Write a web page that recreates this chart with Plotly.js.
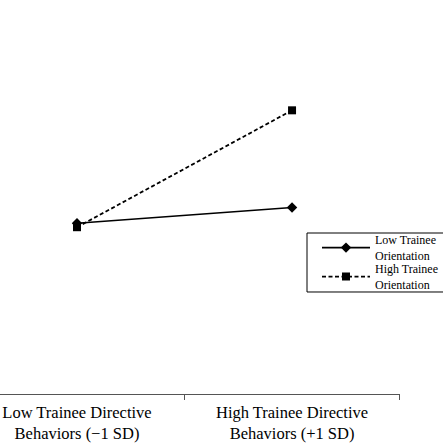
<!DOCTYPE html>
<html>
<head>
<meta charset="utf-8">
<script src="https://cdn.plot.ly/plotly-3.0.1.min.js"></script>
<style>
  html, body { margin: 0; padding: 0; background: white; }
  #chart { width: 443px; height: 443px; }
</style>
</head>
<body>
<div id="chart"></div>
<script>
// directive behaviour levels on the x axis
const categories = [
  'Low Trainee Directive<br>Behaviors (\u22121 SD)',
  'High Trainee Directive<br>Behaviors (+1 SD)'
];

// estimated outcome values
const lowOrientation = [3.30, 3.42];
const highOrientation = [3.27, 4.16];

const seriesNames = [
  'Low Trainee<br>Orientation',
  'High Trainee<br>Orientation'
];

const serif = 'Liberation Serif, Times New Roman, serif';

const lowTrace = {
  x: categories,
  y: lowOrientation,
  name: seriesNames[0],
  legend: 'legend',
  mode: 'lines+markers',
  line: { color: 'black', width: 1.7 },
  marker: { symbol: 'diamond', size: 8, color: 'black' }
};

const highTrace = {
  x: categories,
  y: highOrientation,
  name: seriesNames[1],
  legend: 'legend2',
  mode: 'lines+markers',
  line: { color: 'black', width: 1.8, dash: '4px,2.5px' },
  marker: { symbol: 'square', size: 8, color: 'black' }
};

function legendAt(yMid) {
  return {
    x: 0.7925,
    xanchor: 'left',
    y: yMid,
    yanchor: 'middle',
    borderwidth: 0,
    bgcolor: 'rgba(0,0,0,0)',
    font: { size: 12, family: serif, color: 'black' },
    itemwidth: 48
  };
}

const layout = {
  width: 443,
  height: 443,
  // legend sits near the right edge as in the original; keep margins fixed
  margin: { l: 0, r: 43, t: 0, b: 49, autoexpand: false },
  paper_bgcolor: 'white',
  plot_bgcolor: 'white',
  font: { family: serif, color: 'black' },
  xaxis: {
    type: 'category',
    range: [-0.358, 1.502],
    tickson: 'boundaries',
    ticks: 'outside',
    ticklen: 5,
    tickcolor: '#555',
    ticklabelstandoff: 3,
    showline: true,
    linecolor: '#555',
    linewidth: 1,
    showgrid: false,
    zeroline: false,
    automargin: false,
    tickfont: { size: 16.5, family: serif, color: 'black' }
  },
  yaxis: {
    range: [2, 5],
    showline: false,
    showgrid: false,
    zeroline: false,
    showticklabels: false,
    ticks: ''
  },
  showlegend: true,
  legend: legendAt(0.3706),
  legend2: legendAt(0.2970),
  shapes: [{
    type: 'rect',
    xref: 'paper', yref: 'paper',
    x0: 0.7675, x1: 1.3, y0: 0.2589, y1: 0.4086,
    line: { color: 'black', width: 1 },
    fillcolor: 'rgba(0,0,0,0)'
  }]
};

Plotly.newPlot('chart', [lowTrace, highTrace], layout,
  { displayModeBar: false, staticPlot: true });
</script>
</body>
</html>
